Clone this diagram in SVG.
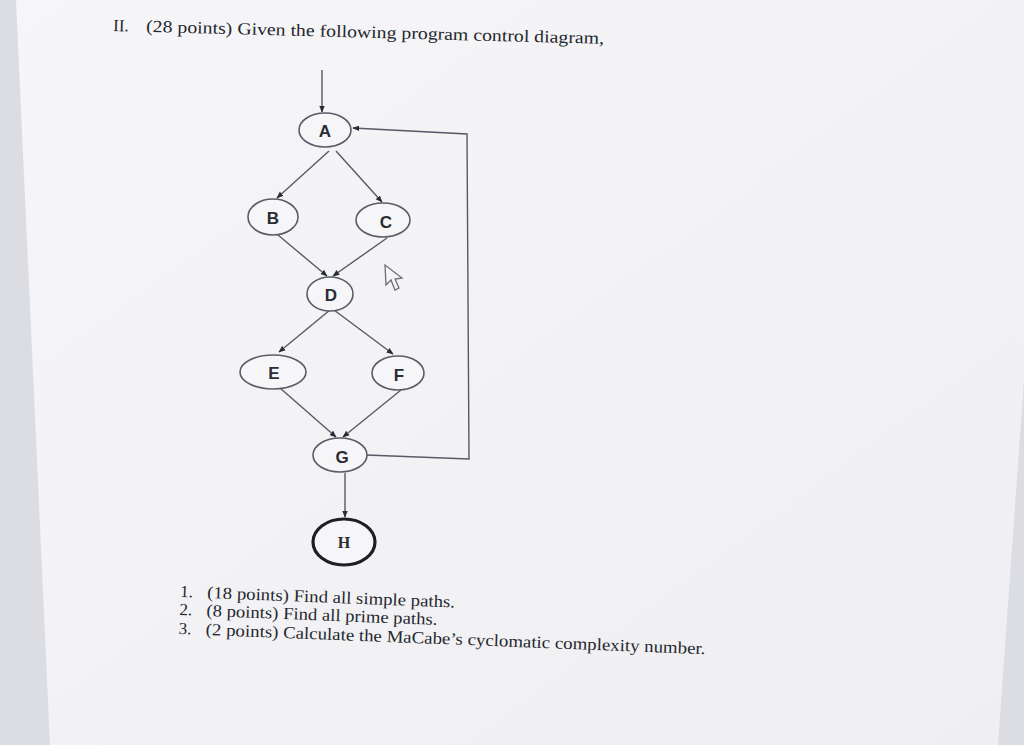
<svg xmlns="http://www.w3.org/2000/svg" width="1024" height="745" viewBox="0 0 1024 745">
<defs>
<style>
.edge{fill:none;stroke:#555a66;stroke-width:1.4}
.node{fill:#f6f6f8;stroke:#5a5d68;stroke-width:1.6}
.term{fill:#f6f6f8;stroke:#1e1f26;stroke-width:3.2}
.lbl{font-family:"Liberation Sans",Arial,sans-serif;font-weight:bold;font-size:17px;fill:#2a2c34;text-anchor:middle}
.lblh{font-family:"Liberation Serif","Times New Roman",serif;font-weight:bold;font-size:16px;fill:#2a2c34;text-anchor:middle}
.txt{font-family:"Liberation Serif","Times New Roman",serif;font-size:17px;fill:#25272f}
</style>
<marker id="ah" viewBox="0 0 10 10" refX="9" refY="5" markerWidth="7" markerHeight="7" orient="auto" markerUnits="userSpaceOnUse">
<path d="M0,1 L10,5 L0,9 z" fill="#2a2c34"/>
</marker>
<linearGradient id="pg" x1="0" y1="0" x2="1" y2="1">
<stop offset="0" stop-color="#f6f6f8"/>
<stop offset="1" stop-color="#efeff1"/>
</linearGradient>
</defs>
<rect x="0" y="0" width="1024" height="745" fill="#dcdde2"/>
<polygon points="16,0 1024,0 1024,380 998,745 50,745" fill="url(#pg)"/>

<text class="txt" x="113" y="31" transform="rotate(1.5 113 31)"><tspan>II.</tspan><tspan x="146" textLength="458" lengthAdjust="spacingAndGlyphs">(28 points) Given the following program control diagram,</tspan></text>

<g id="connectors">
<line class="edge" x1="322" y1="70" x2="322" y2="112" marker-end="url(#ah)"/>
<line class="edge" x1="329" y1="151" x2="277" y2="198" marker-end="url(#ah)"/>
<line class="edge" x1="336" y1="151" x2="382" y2="202" marker-end="url(#ah)"/>
<line class="edge" x1="278" y1="235" x2="327" y2="276" marker-end="url(#ah)"/>
<line class="edge" x1="387" y1="238" x2="333" y2="276" marker-end="url(#ah)"/>
<line class="edge" x1="330" y1="310" x2="279" y2="352" marker-end="url(#ah)"/>
<line class="edge" x1="334" y1="310" x2="393" y2="354" marker-end="url(#ah)"/>
<line class="edge" x1="280" y1="388" x2="336" y2="437" marker-end="url(#ah)"/>
<line class="edge" x1="401" y1="390" x2="343" y2="437" marker-end="url(#ah)"/>
<line class="edge" x1="345" y1="473" x2="345" y2="517" marker-end="url(#ah)"/>
<polyline class="edge" points="366,455 469,459 467,134 353,128" marker-end="url(#ah)"/>
</g>

<g id="node-A"><ellipse class="node" cx="325" cy="130" rx="26" ry="17"/><text class="lbl" x="325" y="137">A</text></g>
<g id="node-B"><ellipse class="node" cx="273" cy="217" rx="25" ry="18"/><text class="lbl" x="273" y="224">B</text></g>
<g id="node-C"><ellipse class="node" cx="383" cy="220" rx="27" ry="17"/><text class="lbl" x="386" y="228">C</text></g>
<g id="node-D"><ellipse class="node" cx="330" cy="294" rx="23" ry="17"/><text class="lbl" x="331" y="301">D</text></g>
<g id="node-E"><ellipse class="node" cx="273" cy="372" rx="33" ry="17"/><text class="lbl" x="274" y="379">E</text></g>
<g id="node-F"><ellipse class="node" cx="398" cy="373" rx="26" ry="17"/><text class="lbl" x="399" y="381">F</text></g>
<g id="node-G"><ellipse class="node" cx="340" cy="455" rx="27" ry="17"/><text class="lbl" x="342" y="463">G</text></g>
<g id="node-H"><ellipse class="term" cx="344" cy="542" rx="31" ry="23"/><text class="lblh" x="344" y="548">H</text></g>

<polygon points="385,265 386,285 391,280 395,290 399,288 395,279 402,278" fill="#f6f6f8" stroke="#6a6d78" stroke-width="1.3"/>

<g transform="rotate(2.2 180 597)">
<text class="txt" x="180" y="597">1.</text>
<text class="txt" x="207" y="597" textLength="248" lengthAdjust="spacingAndGlyphs">(18 points) Find all simple paths.</text>
<text class="txt" x="180" y="615">2.</text>
<text class="txt" x="207" y="615" textLength="231" lengthAdjust="spacingAndGlyphs">(8 points) Find all prime paths.</text>
<text class="txt" x="180" y="634">3.</text>
<text class="txt" x="207" y="634" textLength="500" lengthAdjust="spacingAndGlyphs">(2 points) Calculate the MaCabe’s cyclomatic complexity number.</text>
</g>
</svg>
